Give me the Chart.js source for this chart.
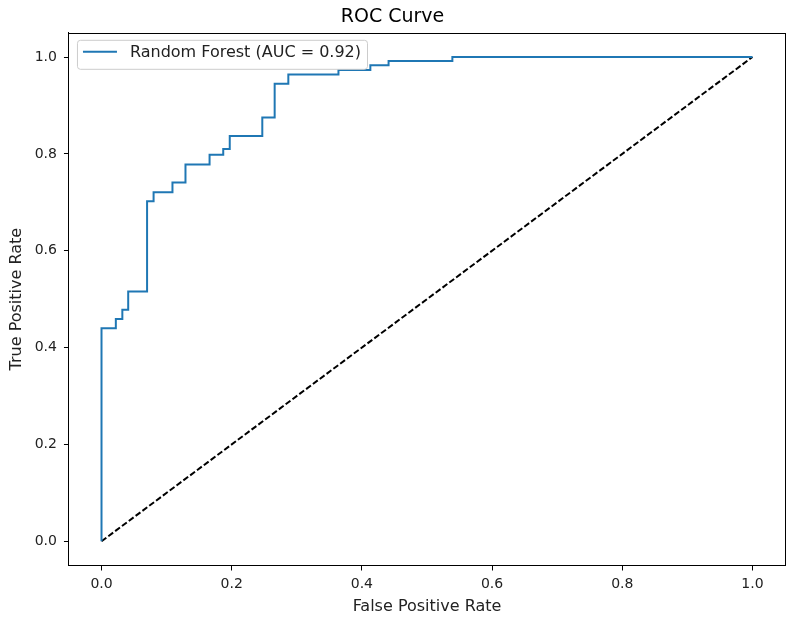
<!DOCTYPE html>
<html>
<head>
<meta charset="utf-8">
<script src="https://cdn.jsdelivr.net/npm/chart.js@4.4.0/dist/chart.umd.min.js"></script>
<style>
  html, body { margin: 0; padding: 0; background: #fff; }
  canvas { display: block; }
</style>
</head>
<body>
<canvas id="rocChart" width="797" height="622"></canvas>
<script>
// ROC curve points
var fpr = [0, 0, 0.022, 0.022, 0.032, 0.032, 0.041, 0.041, 0.070, 0.070, 0.080, 0.080,
           0.109, 0.109, 0.129, 0.129, 0.166, 0.166, 0.187, 0.187, 0.197, 0.197, 0.247, 0.247,
           0.266, 0.266, 0.287, 0.287, 0.364, 0.364, 0.413, 0.413, 0.441, 0.441, 0.539, 0.539, 1.0];
var tpr = [0, 0.440, 0.440, 0.459, 0.459, 0.478, 0.478, 0.516, 0.516, 0.702, 0.702, 0.721,
           0.721, 0.741, 0.741, 0.778, 0.778, 0.798, 0.798, 0.810, 0.810, 0.837, 0.837, 0.875,
           0.875, 0.945, 0.945, 0.964, 0.964, 0.973, 0.973, 0.983, 0.983, 0.992, 0.992, 1.0, 1.0];
// diagonal (random guess)
var chanceX = [0, 1];
var chanceY = [0, 1];
var xTicks = [0, 0.2, 0.4, 0.6, 0.8, 1.0];
var yTicks = [0, 0.2, 0.4, 0.6, 0.8, 1.0];
var curveLabel = 'Random Forest (AUC = 0.92)';

Chart.defaults.font.family = "'DejaVu Sans', sans-serif";
Chart.defaults.color = '#000';

function toPoints(xs, ys) {
    return xs.map(function(x, i) { return { x: x, y: ys[i] }; });
}

// box around the whole plot area
var framePlugin = {
    id: 'frame',
    afterDraw: function(chart) {
        var a = chart.chartArea, ctx = chart.ctx;
        ctx.save();
        ctx.strokeStyle = '#000';
        ctx.lineWidth = 1;
        ctx.strokeRect(Math.round(a.left) - 0.5, Math.round(a.top) + 0.5,
                       Math.round(a.right - a.left) + 1, Math.round(a.bottom - a.top) - 1);
        ctx.restore();
    }
};

// legend drawn inside the plot, upper left
var insideLegend = {
    id: 'insideLegend',
    afterDraw: function(chart) {
        var a = chart.chartArea, ctx = chart.ctx;
        ctx.save();
        ctx.font = "16px 'DejaVu Sans'";
        var tw = ctx.measureText(curveLabel).width;
        var bx = a.left + 8, by = a.top + 7, bw = 61 + tw + 6 - 8, bh = 29;
        ctx.beginPath();
        ctx.roundRect(bx + 0.5, by + 0.5, bw, bh, 3);
        ctx.fillStyle = 'rgba(255,255,255,0.8)';
        ctx.fill();
        ctx.strokeStyle = '#cccccc';
        ctx.lineWidth = 1;
        ctx.stroke();
        ctx.beginPath();
        ctx.moveTo(a.left + 14, by + 12);
        ctx.lineTo(a.left + 48, by + 12);
        ctx.strokeStyle = '#1f77b4';
        ctx.lineWidth = 2;
        ctx.stroke();
        ctx.fillStyle = '#222';
        ctx.textBaseline = 'middle';
        ctx.fillText(curveLabel, a.left + 61, by + 13);
        ctx.restore();
    }
};

var tickFont = { size: 14 };

new Chart(document.getElementById('rocChart'), {
    type: 'scatter',
    data: {
        datasets: [{
            label: curveLabel,
            data: toPoints(fpr, tpr),
            showLine: true,
            borderColor: '#1f77b4',
            borderWidth: 2,
            pointRadius: 0,
            tension: 0
        }, {
            label: 'Chance',
            data: toPoints(chanceX, chanceY),
            showLine: true,
            borderColor: '#000',
            borderDash: [6, 2.5],
            borderWidth: 2,
            pointRadius: 0
        }]
    },
    options: {
        responsive: false,
        animation: false,
        devicePixelRatio: 1,
        layout: { padding: { left: 0, right: 12, top: 0, bottom: 0 } },
        plugins: {
            legend: { display: false },
            tooltip: { enabled: false },
            title: {
                display: true,
                text: 'ROC Curve',
                font: { size: 19, weight: 'normal' },
                color: '#000',
                padding: { top: 6, bottom: 4 }
            }
        },
        scales: {
            x: {
                type: 'linear',
                min: -0.05,
                max: 1.05,
                afterBuildTicks: function(scale) {
                    scale.ticks = xTicks.map(function(v) { return { value: v }; });
                },
                ticks: {
                    font: tickFont, color: '#222', padding: 5, maxRotation: 0, autoSkip: false,
                    callback: function(v) { return v.toFixed(1); }
                },
                grid: { drawOnChartArea: false, drawTicks: true, tickLength: 5, tickColor: '#000' },
                border: { display: true, color: '#000', width: 1 },
                title: {
                    display: true, text: 'False Positive Rate', font: { size: 16 }, color: '#222',
                    padding: { top: 0, bottom: 5.5 }
                }
            },
            y: {
                type: 'linear',
                min: -0.05,
                max: 1.05,
                afterBuildTicks: function(scale) {
                    scale.ticks = yTicks.map(function(v) { return { value: v }; });
                },
                ticks: {
                    font: tickFont, color: '#222', padding: 7, autoSkip: false,
                    callback: function(v) { return v.toFixed(1); }
                },
                grid: { drawOnChartArea: false, drawTicks: true, tickLength: 5, tickColor: '#000' },
                border: { display: true, color: '#000', width: 1 },
                title: {
                    display: true, text: 'True Positive Rate', font: { size: 16 }, color: '#222',
                    padding: { top: 7, bottom: 1.5 }
                }
            }
        }
    },
    plugins: [framePlugin, insideLegend]
});
</script>
</body>
</html>
